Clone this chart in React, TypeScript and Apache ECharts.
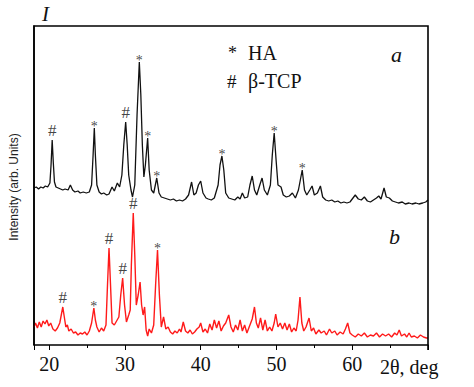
import React, { useEffect, useRef } from "react";
import * as echarts from "echarts";

// 2θ (deg) vs intensity (arb. units), curve a (black) and b (red)
const curveA: [number, number][] = [
  [18.0, 157], [18.3, 158], [18.6, 156], [18.9, 158], [19.2, 157], [19.5, 159], [19.8, 158],
  [20.1, 162], [20.25, 180], [20.4, 205], [20.55, 182], [20.7, 163], [20.9, 158], [21.2, 157],
  [21.5, 156], [21.8, 155], [22.1, 156], [22.5, 155], [22.8, 160], [23.1, 155], [23.4, 153],
  [23.8, 154], [24.1, 152], [24.5, 153], [24.9, 152], [25.3, 153], [25.6, 160], [25.8, 190],
  [25.96, 217], [26.1, 190], [26.3, 160], [26.6, 153], [26.9, 151], [27.2, 152], [27.6, 150],
  [27.9, 151], [28.3, 158], [28.6, 154], [29.0, 162], [29.3, 158], [29.6, 170], [29.85, 200],
  [30.1, 223], [30.3, 200], [30.5, 170], [30.8, 155], [31.0, 148], [31.3, 160], [31.6, 230],
  [31.9, 283], [32.1, 250], [32.3, 200], [32.5, 168], [32.7, 180], [33.0, 207], [33.2, 175],
  [33.5, 155], [33.8, 152], [34.2, 167], [34.5, 152], [34.8, 148], [35.2, 147], [35.6, 146],
  [36.0, 145], [36.4, 146], [36.8, 144], [37.2, 145], [37.6, 144], [38.0, 146], [38.4, 150],
  [38.8, 163], [39.1, 150], [39.4, 152], [39.7, 160], [40.0, 164], [40.3, 152], [40.7, 147],
  [41.0, 146], [41.4, 145], [41.8, 147], [42.3, 160], [42.55, 180], [42.8, 189], [43.05, 175],
  [43.3, 152], [43.7, 147], [44.1, 146], [44.5, 145], [44.9, 148], [45.2, 146], [45.5, 152],
  [45.8, 147], [46.2, 148], [46.5, 160], [46.8, 169], [47.1, 155], [47.4, 150], [47.8, 160],
  [48.1, 167], [48.4, 155], [48.8, 150], [49.2, 160], [49.45, 190], [49.7, 212], [49.95, 185],
  [50.2, 160], [50.6, 158], [50.9, 150], [51.3, 148], [51.7, 149], [52.1, 152], [52.5, 147],
  [52.9, 155], [53.15, 165], [53.4, 175], [53.7, 155], [54.0, 150], [54.4, 155], [54.7, 159],
  [55.0, 150], [55.4, 152], [55.8, 159], [56.1, 148], [56.5, 145], [56.9, 144], [57.3, 145],
  [57.7, 143], [58.1, 144], [58.5, 142], [58.9, 143], [59.3, 142], [59.7, 143], [60.1, 147],
  [60.4, 150], [60.8, 146], [61.2, 145], [61.6, 148], [62.0, 144], [62.4, 143], [62.8, 145],
  [63.2, 147], [63.5, 149], [63.8, 146], [64.2, 157], [64.5, 148], [64.9, 147], [65.3, 144],
  [65.7, 143], [66.1, 142], [66.6, 143], [67.0, 141], [67.5, 142], [67.9, 141], [68.4, 142],
  [68.8, 141], [69.3, 142], [69.7, 143], [70.0, 145],
];

const curveB: [number, number][] = [
  [18.0, 18], [18.2, 22], [18.45, 17], [18.7, 23], [18.95, 18], [19.2, 24], [19.45, 21],
  [19.7, 25], [19.95, 19], [20.2, 22], [20.5, 16], [20.8, 14], [21.1, 17], [21.4, 22],
  [21.6, 30], [21.8, 38], [22.0, 28], [22.2, 18], [22.4, 20], [22.6, 14], [22.9, 16],
  [23.2, 12], [23.5, 13], [23.8, 10], [24.1, 12], [24.4, 11], [24.7, 13], [25.0, 10],
  [25.3, 14], [25.6, 22], [25.9, 37], [26.1, 25], [26.3, 18], [26.6, 13], [26.9, 17],
  [27.2, 14], [27.5, 20], [27.7, 60], [27.9, 97], [28.1, 60], [28.3, 22], [28.6, 20],
  [28.9, 24], [29.2, 28], [29.45, 50], [29.7, 67], [29.95, 40], [30.2, 23], [30.5, 30],
  [30.7, 35], [30.85, 80], [31.1, 132], [31.3, 90], [31.5, 40], [31.75, 50], [32.0, 63],
  [32.2, 40], [32.4, 30], [32.6, 38], [32.8, 15], [33.0, 9], [33.2, 16], [33.5, 12],
  [33.8, 20], [34.05, 60], [34.3, 95], [34.55, 50], [34.8, 18], [35.1, 28], [35.4, 16],
  [35.7, 18], [36.0, 13], [36.3, 11], [36.6, 14], [36.9, 12], [37.2, 16], [37.4, 13],
  [37.7, 23], [38.0, 14], [38.3, 12], [38.6, 15], [38.9, 11], [39.2, 13], [39.5, 16],
  [39.8, 18], [40.0, 22], [40.3, 13], [40.6, 16], [40.9, 12], [41.2, 21], [41.5, 15],
  [41.8, 25], [42.1, 17], [42.4, 24], [42.7, 14], [43.0, 19], [43.3, 22], [43.7, 30],
  [44.0, 18], [44.3, 13], [44.6, 20], [44.9, 15], [45.2, 25], [45.5, 14], [45.8, 20],
  [46.1, 12], [46.4, 18], [46.8, 26], [47.1, 38], [47.35, 22], [47.6, 17], [47.9, 27],
  [48.2, 15], [48.5, 25], [48.8, 14], [49.1, 18], [49.4, 14], [49.7, 22], [49.9, 31],
  [50.2, 18], [50.5, 22], [50.8, 16], [51.1, 22], [51.4, 15], [51.7, 21], [52.0, 13],
  [52.3, 17], [52.6, 14], [52.85, 25], [53.1, 48], [53.35, 22], [53.6, 14], [53.9, 18],
  [54.3, 27], [54.6, 14], [54.9, 17], [55.2, 11], [55.6, 15], [55.9, 12], [56.3, 14],
  [56.6, 10], [57.0, 16], [57.3, 12], [57.7, 14], [58.0, 10], [58.4, 13], [58.8, 11],
  [59.1, 16], [59.4, 22], [59.7, 12], [60.0, 10], [60.4, 8], [60.8, 11], [61.2, 9],
  [61.6, 12], [62.0, 8], [62.4, 10], [62.8, 9], [63.2, 12], [63.6, 8], [64.0, 11],
  [64.4, 9], [64.8, 11], [65.2, 8], [65.6, 12], [65.9, 10], [66.2, 15], [66.5, 9],
  [66.9, 11], [67.2, 8], [67.5, 12], [67.8, 8], [68.2, 9], [68.6, 7], [69.0, 10],
  [69.4, 8], [69.8, 7], [70.0, 7],
];

// peak markers: [2θ, peak intensity, phase mark]
const marksA: [number, number, string][] = [
  [20.4, 205, "#"], [25.96, 217, "*"], [30.1, 223, "#"], [31.9, 283, "*"],
  [33.0, 207, "*"], [34.2, 167, "*"], [42.8, 189, "*"], [49.7, 212, "*"], [53.4, 175, "*"],
];
const marksB: [number, number, string][] = [
  [21.8, 38, "#"], [25.9, 37, "*"], [27.9, 97, "#"], [29.7, 67, "#"], [31.1, 132, "#"], [34.3, 95, "*"],
];

const xMin = 18;
const xMax = 70;
const yMin = 0;
const yMax = 319;
const xTickLabels = [20, 30, 40, 50, 60];
const legendItems = [
  { mark: "*", name: "HA" },
  { mark: "#", name: "β-TCP" },
];

const GRID = { left: 34, right: 46, top: 26, bottom: 42 };
const W = 474;
const H = 387;
const SERIF = "Liberation Serif";
const SANS = "Liberation Sans";
const INK = "#000";

function markSeries(marks: [number, number, string][]) {
  return {
    type: "scatter",
    symbolSize: 0,
    silent: true,
    z: 5,
    itemStyle: { color: INK },
    data: marks.map((m) => ({
      value: [m[0], m[1]],
      label: {
        show: true,
        position: "top",
        distance: m[2] === "#" ? 1 : -5,
        formatter: m[2],
        fontFamily: SERIF,
        fontSize: m[2] === "#" ? 17 : 14,
        color: "#111",
      },
    })),
  };
}

const frameLine = { show: true, onZero: false, lineStyle: { color: INK, width: 1.5 } };
const hidden = { show: false };

const L = GRID.left;
const R = W - GRID.right;
const T = GRID.top;
const B = H - GRID.bottom;

export default function App() {
  const ref = useRef<HTMLDivElement>(null);
  useEffect(() => {
    if (!ref.current) return;
    const chart = echarts.init(ref.current, null, { renderer: "svg" });
    chart.setOption({
      animation: false,
      backgroundColor: "#fff",
      grid: { ...GRID },
      xAxis: [
        {
          type: "value",
          min: xMin,
          max: xMax,
          splitLine: hidden,
          axisLine: frameLine,
          axisTick: { show: true, length: 5, lineStyle: { color: INK } },
          minorTick: { show: true, splitNumber: 2, length: 3, lineStyle: { color: INK } },
          axisLabel: {
            showMinLabel: false,
            showMaxLabel: false,
            margin: 9,
            fontFamily: SERIF,
            fontSize: 20,
            color: "#111",
            formatter: (v: number) => (xTickLabels.includes(v) ? String(v) : ""),
          },
        },
      ],
      yAxis: [
        {
          type: "value", position: "left", min: yMin, max: yMax,
          axisLine: frameLine, axisTick: hidden, axisLabel: hidden, splitLine: hidden,
        },
      ],
      series: [
        { type: "line", data: curveA, symbol: "none", lineStyle: { color: "#111", width: 1.3 } },
        { type: "line", data: curveB, symbol: "none", lineStyle: { color: "#ff1a1a", width: 1.4 } },
        markSeries(marksA),
        markSeries(marksB),
      ],
      graphic: [
        {
          type: "polyline", zlevel: 1, z: 100, silent: true,
          shape: { points: [[L, B], [L, T], [R, T], [R, B + 5]] },
          style: { fill: null, stroke: INK, lineWidth: 1.6 },
        },
        { type: "text", x: 42, y: 14, style: { text: "I", fontFamily: SERIF, fontStyle: "italic", fontSize: 21, fill: "#111", textVerticalAlign: "middle" } },
        { type: "text", x: 228, y: 53, style: { text: legendItems[0].mark, fontFamily: SERIF, fontSize: 18, fill: "#111", textVerticalAlign: "middle" } },
        { type: "text", x: 248, y: 53, style: { text: legendItems[0].name, fontFamily: SERIF, fontSize: 20, fill: "#111", textVerticalAlign: "middle" } },
        { type: "text", x: 227, y: 81, style: { text: legendItems[1].mark, fontFamily: SERIF, fontSize: 19, fill: "#111", textVerticalAlign: "middle" } },
        { type: "text", x: 248, y: 81, style: { text: legendItems[1].name, fontFamily: SERIF, fontSize: 20, fill: "#111", textVerticalAlign: "middle" } },
        { type: "text", x: 391, y: 54, style: { text: "a", fontFamily: SERIF, fontStyle: "italic", fontSize: 22, fill: "#111", textVerticalAlign: "middle" } },
        { type: "text", x: 389, y: 236, style: { text: "b", fontFamily: SERIF, fontStyle: "italic", fontSize: 22, fill: "#111", textVerticalAlign: "middle" } },
        { type: "text", x: 380, y: 367, style: { text: "2θ, deg", fontFamily: SERIF, fontSize: 20, fill: "#111", textVerticalAlign: "middle" } },
        {
          type: "text", x: 14, y: 187, rotation: Math.PI / 2,
          style: { text: "Intensity (arb. Units)", fontFamily: SANS, fontSize: 12, fill: "#222", textAlign: "center", textVerticalAlign: "middle" },
        },
      ],
    });
    return () => chart.dispose();
  }, []);
  return <div ref={ref} style={{ position: "fixed", left: 0, top: 0, width: W, height: H }} />;
}
